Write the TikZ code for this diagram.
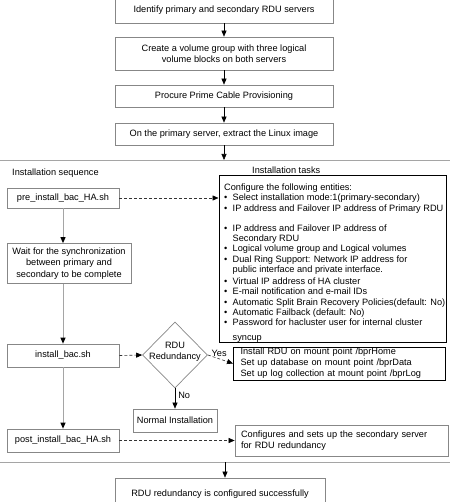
\documentclass[tikz,border=0pt]{standalone}
\usepackage{fontspec}
\setmainfont{Liberation Sans}
\usetikzlibrary{arrows.meta,shapes.geometric}
\definecolor{boxgray}{RGB}{135,135,135}
\definecolor{linegray}{RGB}{165,165,165}
\newcommand{\bul}{\makebox[8.5pt][l]{\textbullet}}
\newcommand{\nobul}{\hspace*{8.5pt}}
\begin{document}
\begin{tikzpicture}[x=1pt,y=-1pt,
  font=\fontsize{9.2}{10.6}\selectfont,
  box/.style={draw=boxgray, line width=0.7pt, inner sep=0pt, align=center, text=black},
  bbox/.style={draw=black, line width=1pt, inner sep=0pt},
  arr/.style={draw=black, line width=0.6pt, -{Triangle[width=5pt,length=6pt]}},
  garr/.style={draw=linegray, line width=1pt, -{Triangle[width=5pt,length=6pt,black]}},
  darr/.style={draw=black!80, line width=0.6pt, dash pattern=on 3pt off 2pt, -{Triangle[width=5pt,length=6pt,black]}},
  sepline/.style={draw=linegray, line width=0.8pt},
  txt/.style={inner sep=0pt, align=left, anchor=west}]
\useasboundingbox (0,0) rectangle (450,502);
\fill[white] (0,0) rectangle (450,502);

% top flow
\node[box, minimum width=218, minimum height=26] (b1) at (224,10) {Identify primary and secondary RDU servers};
\node[box, minimum width=218, minimum height=33] (b2) at (224,53.5) {Create a volume group with three logical\\volume blocks on both servers};
\node[box, minimum width=218, minimum height=22] (b3) at (224,96) {Procure Prime Cable Provisioning};
\node[box, minimum width=218, minimum height=22] (b4) at (224,134) {On the primary server, extract the Linux image};
\draw[arr] (b1) -- (b2);
\draw[arr] (b2) -- (b3);
\draw[arr] (b3) -- (b4);

% separator 1
\coordinate (s1l) at (0,160);
\coordinate (s1r) at (450,160);
\coordinate (s1) at (224,160);
\draw[sepline] (s1l) -- (s1r);
\draw[arr] (b4) -- (s1);

\node[txt] (seqlbl) at (12,173) {Installation sequence};
\node[txt] (tasklbl) at (252,170) {Installation tasks};

% installation sequence
\node[box, minimum width=112, minimum height=20] (pre) at (63,198) {pre\_install\_bac\_HA.sh};
\node[box, minimum width=124, minimum height=40, font=\fontsize{9.2}{11.3}\selectfont] (wait) at (69,263.5) {Wait for the synchronization\\between primary and\\secondary to be complete};
\node[box, minimum width=112, minimum height=23] (inst) at (63,355.5) {install\_bac.sh};
\node[box, minimum width=112, minimum height=23] (post) at (63,440.5) {post\_install\_bac\_HA.sh};
\draw[garr] (pre.south) -- (pre.south |- wait.north);
\draw[garr] (pre.south |- wait.south) -- (pre.south |- inst.north);
\draw[garr] (inst.south) -- (post.north);

% installation tasks box
\node[bbox, minimum width=227, minimum height=166] (tasks) at (332.5,259) {};
\node[inner sep=0pt, anchor=north west, align=left, font=\fontsize{9.2}{10.4}\selectfont] (taskstext) at (224,183.5) {%
Configure the following entities:\\
\bul Select installation mode:1(primary-secondary)\\
\bul IP address and Failover IP address of Primary RDU\\[9.6pt]
\bul IP address and Failover IP address of\\
\nobul Secondary RDU\\
\bul Logical volume group and Logical volumes\\
\bul Dual Ring Support: Network IP address for\\
\nobul public interface and private interface.\\[1.2pt]
\bul Virtual IP address of HA cluster\\
\bul E-mail notification and e-mail IDs\\
\bul Automatic Split Brain Recovery Policies(default: No)\\
\bul Automatic Failback (default: No)\\
\bul Password for hacluster user for internal cluster\\[4pt]
\nobul syncup};
\draw[darr] (pre.east) -- (pre.east -| tasks.west);

% decision
\node[draw=boxgray, line width=0.7pt, diamond, inner sep=0pt, minimum width=65, minimum height=66] (dia) at (175,355) {};
\node[inner sep=0pt, align=center] (diatext) at (175,351.5) {RDU\\Redundancy};
\draw[darr] (inst.east) -- (dia.west);

\node[box, minimum width=84, minimum height=23] (normal) at (175,420.5) {Normal Installation};
\draw[arr] (dia.south) -- node[right, inner sep=3pt, pos=0.35] (nolbl) {No} (normal.north);

\node[bbox, minimum width=209, minimum height=33, align=left, text width=198, inner xsep=7pt, font=\fontsize{9.2}{11}\selectfont] (yesbox) at (339.5,363.5) {Install RDU on mount point /bprHome\\Set up database on mount point /bprData\\Set up log collection at mount point /bprLog};
\draw[darr] (dia.east) -- node[above, inner sep=1.5pt, pos=0.45] (yeslbl) {Yes} (yesbox.west);

\node[box, minimum width=213, minimum height=31, align=left, text width=201, inner xsep=6pt] (cfg) at (341.5,440.5) {Configures and sets up the secondary server\\for RDU redundancy};
\draw[darr] (post.east) -- (post.east -| cfg.west);

% separator 2
\coordinate (s2l) at (0,462);
\coordinate (s2r) at (450,462);
\coordinate (s2) at (225,462);
\draw[sepline] (s2l) -- (s2r);
\node[box, minimum width=210, minimum height=32] (final) at (220,494) {RDU redundancy is configured successfully};
\draw[arr] (s2) -- (s2 |- final.north);
\end{tikzpicture}
\end{document}
